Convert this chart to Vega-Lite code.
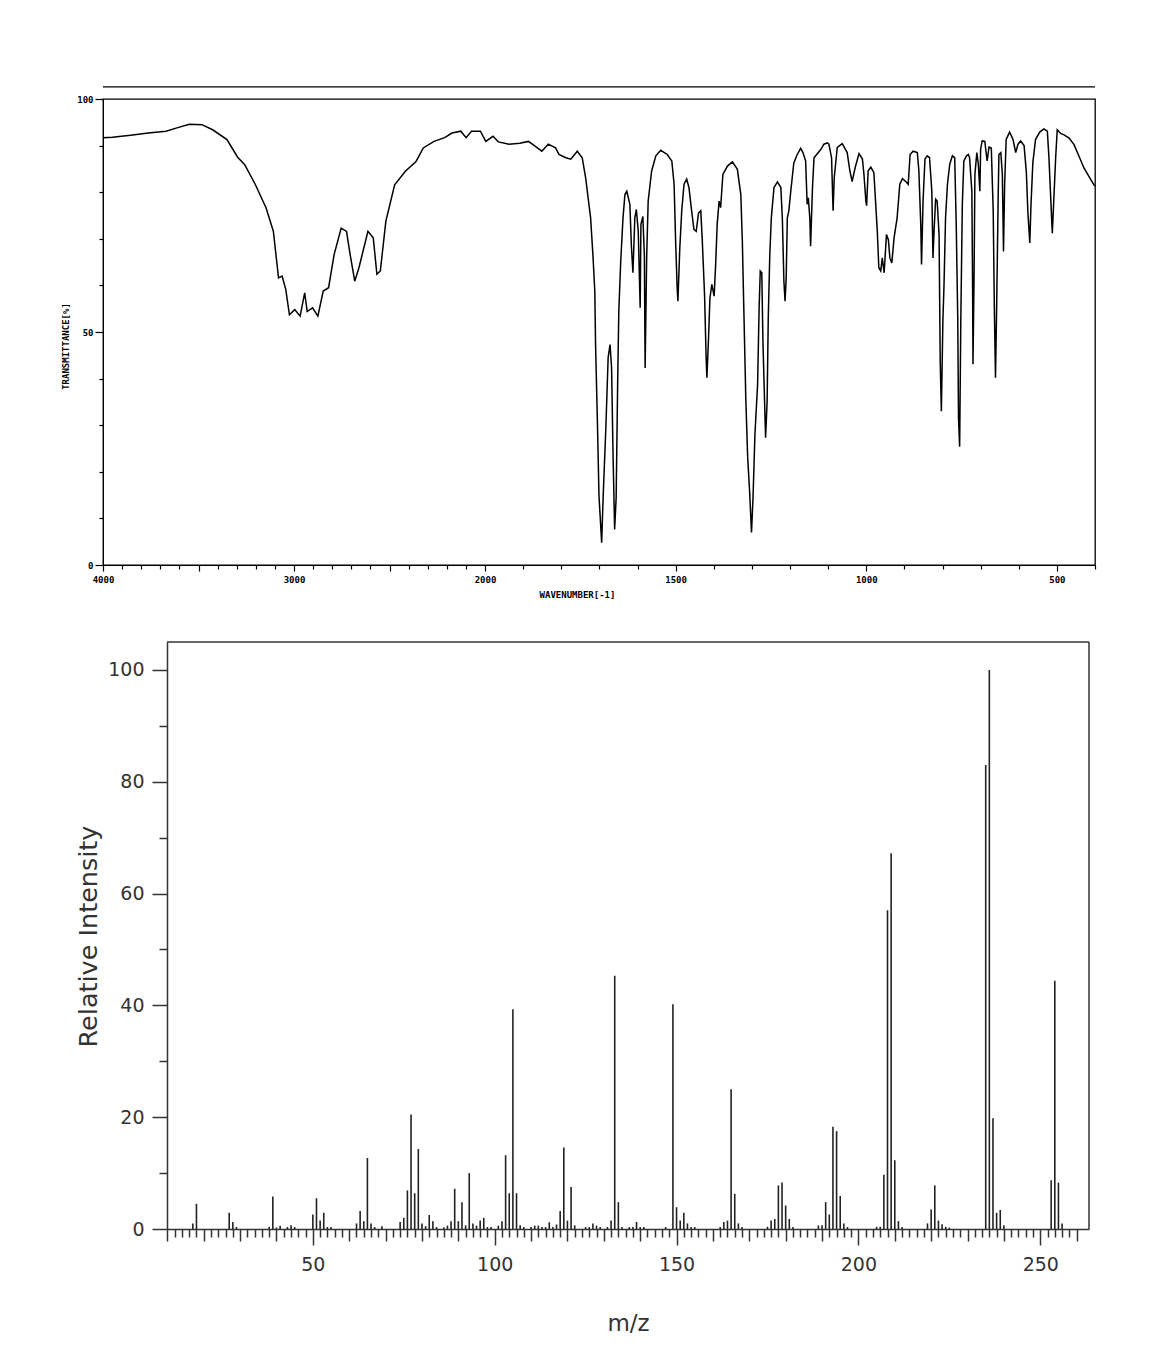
{
  "$schema": "https://vega.github.io/schema/vega-lite/v6.json",
  "padding": {"left": 60, "top": 85, "right": 0, "bottom": 0},
  "autosize": {"type": "pad"},
  "spacing": 41,
  "background": "white",
  "config": {
    "view": {"stroke": "#000", "strokeWidth": 1.3},
    "axis": {"grid": false, "labelOverlap": false, "labelFlush": false, "tickCount": 1000, "format": "d"}
  },
  "datasets": {
    "ir": [
      {"wn":4000,"t":91.7},{"wn":3950,"t":91.8},{"wn":3856,"t":92.2},{"wn":3763,"t":92.7},{"wn":3670,"t":93.1},{"wn":3613,"t":93.8},{"wn":3548,"t":94.6},{"wn":3482,"t":94.5},{"wn":3426,"t":93.4},{"wn":3351,"t":91.3},{"wn":3295,"t":87.5},{"wn":3258,"t":85.9},{"wn":3202,"t":81.6},{"wn":3146,"t":76.6},{"wn":3108,"t":71.6},{"wn":3081,"t":61.6},{"wn":3062,"t":62.0},{"wn":3043,"t":59.1},{"wn":3024,"t":53.7},{"wn":2996,"t":54.8},{"wn":2968,"t":53.4},{"wn":2944,"t":58.4},{"wn":2931,"t":54.4},{"wn":2903,"t":55.2},{"wn":2875,"t":53.4},{"wn":2847,"t":58.8},{"wn":2819,"t":59.5},{"wn":2790,"t":66.6},{"wn":2753,"t":72.3},{"wn":2725,"t":71.6},{"wn":2706,"t":66.6},{"wn":2682,"t":60.9},{"wn":2660,"t":63.8},{"wn":2613,"t":71.6},{"wn":2585,"t":70.2},{"wn":2566,"t":62.4},{"wn":2548,"t":63.1},{"wn":2519,"t":73.8},{"wn":2473,"t":81.6},{"wn":2417,"t":84.5},{"wn":2361,"t":86.6},{"wn":2323,"t":89.5},{"wn":2267,"t":90.9},{"wn":2211,"t":91.7},{"wn":2173,"t":92.7},{"wn":2127,"t":93.1},{"wn":2099,"t":91.7},{"wn":2071,"t":93.1},{"wn":2024,"t":93.1},{"wn":1998,"t":90.9},{"wn":1979,"t":92.0},{"wn":1965,"t":90.8},{"wn":1937,"t":90.3},{"wn":1909,"t":90.5},{"wn":1886,"t":90.9},{"wn":1867,"t":89.8},{"wn":1851,"t":88.8},{"wn":1834,"t":90.3},{"wn":1815,"t":89.5},
      {"wn":1806,"t":88.1},{"wn":1788,"t":87.4},{"wn":1775,"t":87.1},{"wn":1758,"t":88.8},{"wn":1745,"t":87.4},{"wn":1736,"t":83.1},{"wn":1723,"t":74.5},{"wn":1717,"t":66.6},{"wn":1712,"t":58.8},{"wn":1710,"t":47.3},{"wn":1705,"t":30.1},{"wn":1701,"t":14.8},{"wn":1694,"t":4.8},{"wn":1690,"t":14.8},{"wn":1683,"t":29.5},{"wn":1677,"t":44.5},{"wn":1672,"t":47.3},{"wn":1668,"t":42.3},{"wn":1664,"t":23},{"wn":1660,"t":7.6},{"wn":1656,"t":14.4},{"wn":1652,"t":39.3},{"wn":1649,"t":54.5},{"wn":1644,"t":65.2},{"wn":1638,"t":74.5},{"wn":1633,"t":79.5},{"wn":1628,"t":80.2},{"wn":1620,"t":77.4},{"wn":1616,"t":68.4},{"wn":1612,"t":62.7},{"wn":1607,"t":74.5},{"wn":1603,"t":76.3},{"wn":1598,"t":71.6},{"wn":1593,"t":55.2},{"wn":1591,"t":73.1},{"wn":1586,"t":74.8},{"wn":1582,"t":66.6},{"wn":1580,"t":42.3},{"wn":1576,"t":65.9},{"wn":1572,"t":78.1},{"wn":1563,"t":84.5},{"wn":1552,"t":87.8},{"wn":1539,"t":89},{"wn":1522,"t":88.1},{"wn":1510,"t":86.7},{"wn":1504,"t":81.7},{"wn":1500,"t":69.5},{"wn":1496,"t":59.5},{"wn":1494,"t":56.6},{"wn":1489,"t":68.1},{"wn":1484,"t":76},{"wn":1478,"t":81.7},{"wn":1471,"t":82.8},{"wn":1465,"t":81},{"wn":1458,"t":76},{"wn":1452,"t":72},{"wn":1446,"t":71.6},{"wn":1440,"t":75.5},{"wn":1434,"t":76},{"wn":1430,"t":69.5},{"wn":1424,"t":57.7},{"wn":1420,"t":44.5},{"wn":1418,"t":40.2},{"wn":1414,"t":48},{"wn":1410,"t":57.3},{"wn":1405,"t":60.2},{"wn":1399,"t":57.7},{"wn":1395,"t":64.5},{"wn":1391,"t":73.1},{"wn":1386,"t":78.1},{"wn":1382,"t":76.7},{"wn":1376,"t":83.8},{"wn":1364,"t":85.6},{"wn":1351,"t":86.5},{"wn":1338,"t":84.9},{"wn":1329,"t":79.5},{"wn":1325,"t":69.5},{"wn":1321,"t":54.5},{"wn":1316,"t":35.9},{"wn":1311,"t":23},{"wn":1306,"t":15.9},{"wn":1301,"t":7},{"wn":1297,"t":14.4},{"wn":1292,"t":28},{"wn":1285,"t":38.7},{"wn":1281,"t":55.2},{"wn":1278,"t":63.1},{"wn":1274,"t":62.7},{"wn":1271,"t":48},{"wn":1266,"t":33},{"wn":1264,"t":27.3},{"wn":1260,"t":35.2},{"wn":1257,"t":53},{"wn":1253,"t":66.6},{"wn":1249,"t":74.5},{"wn":1242,"t":81},{"wn":1233,"t":82.2},{"wn":1224,"t":81},{"wn":1220,"t":74.2},{"wn":1216,"t":60.9},{"wn":1213,"t":56.6},{"wn":1210,"t":61.6},{"wn":1207,"t":74.5},{"wn":1203,"t":76},{"wn":1198,"t":80.2},{"wn":1190,"t":86.3},{"wn":1181,"t":88.1},{"wn":1172,"t":89.4},{"wn":1166,"t":88.5},{"wn":1159,"t":86.7},{"wn":1155,"t":77.4},{"wn":1152,"t":78.8},{"wn":1148,"t":74.5},{"wn":1146,"t":68.4},{"wn":1141,"t":81},{"wn":1137,"t":87.4},{"wn":1128,"t":88.3},{"wn":1119,"t":89.2},{"wn":1111,"t":90.3},{"wn":1102,"t":90.6},
      {"wn":1098,"t":90.3},{"wn":1091,"t":87.4},{"wn":1087,"t":76},{"wn":1084,"t":83.1},{"wn":1076,"t":89.6},{"wn":1063,"t":90.4},{"wn":1050,"t":88.5},{"wn":1043,"t":84.6},{"wn":1037,"t":82.3},{"wn":1029,"t":85.3},{"wn":1019,"t":88.3},{"wn":1010,"t":87.1},{"wn":1006,"t":83.8},{"wn":1001,"t":78.1},{"wn":999,"t":77.1},{"wn":995,"t":84.6},{"wn":988,"t":85.4},{"wn":980,"t":84.2},{"wn":971,"t":71.6},{"wn":967,"t":63.8},{"wn":962,"t":63.1},{"wn":958,"t":65.9},{"wn":953,"t":62.7},{"wn":947,"t":70.9},{"wn":942,"t":69.8},{"wn":938,"t":65.9},{"wn":933,"t":64.8},{"wn":927,"t":70.2},{"wn":919,"t":74.5},{"wn":912,"t":81.7},{"wn":905,"t":82.9},{"wn":895,"t":82.2},{"wn":890,"t":81.7},{"wn":885,"t":88.1},{"wn":877,"t":88.8},{"wn":866,"t":88.5},{"wn":862,"t":84.6},{"wn":857,"t":73.1},{"wn":855,"t":64.5},{"wn":851,"t":78.1},{"wn":846,"t":87.1},{"wn":840,"t":87.8},{"wn":834,"t":87.4},{"wn":828,"t":80.2},{"wn":825,"t":65.9},{"wn":822,"t":72},{"wn":818,"t":78.5},{"wn":814,"t":78.1},{"wn":809,"t":70.9},{"wn":806,"t":43.7},{"wn":803,"t":33},{"wn":799,"t":52.3},{"wn":796,"t":60.2},{"wn":792,"t":74.5},{"wn":787,"t":81.7},{"wn":781,"t":86},{"wn":774,"t":87.8},{"wn":768,"t":87.4},{"wn":764,"t":73.1},{"wn":760,"t":53},{"wn":758,"t":31.5},{"wn":755,"t":25.4},{"wn":752,"t":52.3},{"wn":748,"t":77.4},{"wn":744,"t":86.7},{"wn":737,"t":87.8},{"wn":732,"t":88.1},{"wn":729,"t":87.4},{"wn":723,"t":80.2},{"wn":721,"t":58.8},{"wn":720,"t":43.1},{"wn":717,"t":63.8},{"wn":715,"t":83.8},{"wn":710,"t":88.5},{"wn":706,"t":86},{"wn":702,"t":80.2},{"wn":700,"t":89.2},{"wn":696,"t":91},{"wn":689,"t":90.9},{"wn":683,"t":86.7},{"wn":678,"t":89.7},{"wn":672,"t":89.5},{"wn":667,"t":76},{"wn":664,"t":55.2},{"wn":661,"t":40.2},{"wn":658,"t":55.2},{"wn":654,"t":78.8},{"wn":652,"t":88.1},{"wn":647,"t":88.5},{"wn":643,"t":83.8},{"wn":640,"t":67.3},{"wn":637,"t":81.7},{"wn":633,"t":91.3},{"wn":624,"t":92.9},{"wn":615,"t":91.3},{"wn":608,"t":88.5},{"wn":602,"t":90.3},{"wn":595,"t":91},{"wn":586,"t":90},{"wn":580,"t":84.2},{"wn":576,"t":75.6},{"wn":571,"t":69.1},{"wn":568,"t":77.1},{"wn":563,"t":86.4},{"wn":556,"t":91.3},{"wn":545,"t":92.9},{"wn":534,"t":93.6},{"wn":525,"t":93.1},{"wn":521,"t":87.7},{"wn":516,"t":78.5},{"wn":512,"t":71.2},{"wn":508,"t":78.5},{"wn":503,"t":87.7},{"wn":499,"t":93.4},{"wn":490,"t":92.6},{"wn":481,"t":92.3},{"wn":468,"t":91.6},{"wn":455,"t":90.2},{"wn":442,"t":87.7},{"wn":429,"t":85.2},{"wn":416,"t":83.4},{"wn":403,"t":81.6},{"wn":400,"t":81.3}
    ],
    "ms": [
      {"mz":17,"i":1.0},{"mz":18,"i":4.5},{"mz":27,"i":2.9},{"mz":28,"i":1.25},{"mz":29,"i":0.35},{"mz":38,"i":0.4},{"mz":39,"i":5.8},{"mz":40,"i":0.25},{"mz":41,"i":0.6},{"mz":43,"i":0.35},{"mz":44,"i":0.65},{"mz":45,"i":0.35},{"mz":50,"i":2.6},{"mz":51,"i":5.5},{"mz":52,"i":1.5},{"mz":53,"i":2.9},{"mz":54,"i":0.35},{"mz":55,"i":0.35},{"mz":62,"i":1.0},{"mz":63,"i":3.2},{"mz":64,"i":1.4},{"mz":65,"i":12.7},{"mz":66,"i":1.0},{"mz":67,"i":0.35},{"mz":69,"i":0.5},{"mz":74,"i":1.25},{"mz":75,"i":2.0},{"mz":76,"i":6.9},{"mz":77,"i":20.5},{"mz":78,"i":6.4},{"mz":79,"i":14.3},{"mz":80,"i":1.0},{"mz":81,"i":0.5},{"mz":82,"i":2.5},{"mz":83,"i":1.4},{"mz":84,"i":0.35},{"mz":86,"i":0.3},{"mz":87,"i":0.6},{"mz":88,"i":1.4},{"mz":89,"i":7.2},{"mz":90,"i":1.4},{"mz":91,"i":4.8},{"mz":92,"i":0.65},{"mz":93,"i":10.0},{"mz":94,"i":1.0},{"mz":95,"i":0.6},{"mz":96,"i":1.5},{"mz":97,"i":2.0},{"mz":98,"i":0.35},{"mz":99,"i":0.35},{"mz":101,"i":0.6},{"mz":102,"i":1.4},{"mz":103,"i":13.2},{"mz":104,"i":6.4},{"mz":105,"i":39.3},{"mz":106,"i":6.4},{"mz":107,"i":0.65},{"mz":108,"i":0.35},{"mz":110,"i":0.35},{"mz":111,"i":0.6},{"mz":112,"i":0.6},{"mz":113,"i":0.35},{"mz":114,"i":0.35},{"mz":115,"i":1.2},{"mz":116,"i":0.35},{"mz":117,"i":0.8},{"mz":118,"i":3.2},{"mz":119,"i":14.6},{"mz":120,"i":1.5},{"mz":121,"i":7.5},{"mz":122,"i":0.65},{"mz":125,"i":0.35},{"mz":126,"i":0.35},{"mz":127,"i":1.0},{"mz":128,"i":0.6},{"mz":129,"i":0.35},{"mz":131,"i":0.35},{"mz":132,"i":1.5},{"mz":133,"i":45.3},{"mz":134,"i":4.8},{"mz":135,"i":0.35},{"mz":137,"i":0.35},{"mz":138,"i":0.35},{"mz":139,"i":1.25},{"mz":140,"i":0.35},{"mz":141,"i":0.35},{"mz":147,"i":0.35},{"mz":149,"i":40.2},{"mz":150,"i":3.9},{"mz":151,"i":1.5},{"mz":152,"i":2.9},{"mz":153,"i":1.0},{"mz":154,"i":0.35},{"mz":155,"i":0.35},{"mz":162,"i":0.35},{"mz":163,"i":1.25},{"mz":164,"i":1.5},{"mz":165,"i":25},{"mz":166,"i":6.3},{"mz":167,"i":1.0},{"mz":168,"i":0.35},{"mz":175,"i":0.4},{"mz":176,"i":1.5},{"mz":177,"i":1.8},{"mz":178,"i":7.8},{"mz":179,"i":8.3},{"mz":180,"i":4.2},{"mz":181,"i":1.8},{"mz":182,"i":0.35},{"mz":189,"i":0.65},{"mz":190,"i":0.65},{"mz":191,"i":4.8},{"mz":192,"i":2.6},{"mz":193,"i":18.3},{"mz":194,"i":17.5},{"mz":195,"i":5.9},{"mz":196,"i":1.0},{"mz":197,"i":0.35},{"mz":205,"i":0.4},{"mz":206,"i":0.4},{"mz":207,"i":9.7},{"mz":208,"i":57},{"mz":209,"i":67.2},{"mz":210,"i":12.3},{"mz":211,"i":1.4},{"mz":212,"i":0.35},{"mz":219,"i":1.0},{"mz":220,"i":3.5},{"mz":221,"i":7.8},{"mz":222,"i":1.5},{"mz":223,"i":0.85},{"mz":224,"i":0.4},{"mz":225,"i":0.25},{"mz":235,"i":83},{"mz":236,"i":100},{"mz":237,"i":19.8},{"mz":238,"i":2.9},{"mz":239,"i":3.4},{"mz":240,"i":0.65},{"mz":253,"i":8.7},{"mz":254,"i":44.4},{"mz":255,"i":8.3},{"mz":256,"i":1.0}
    ]
  },
  "vconcat": [
    {
      "width": 992,
      "height": 466,
      "layer": [
        {
          "data": {"name": "ir"},
          "mark": {"type": "line", "color": "#000", "strokeWidth": 1.5},
          "encoding": {
            "x": {
              "field": "wn", "type": "quantitative",
              "scale": {"domain": [4000, 2000, 400], "range": [0, 382, 992], "nice": false, "zero": false},
              "axis": {
                "values": [4000,3900,3800,3700,3600,3500,3400,3300,3200,3100,3000,2900,2800,2700,2600,2500,2400,2300,2200,2100,2000,1900,1800,1700,1600,1500,1400,1300,1200,1100,1000,900,800,700,600,500,400],
                "format": "d",
                "labelExpr": "indexof([4000,3000,2000,1500,1000,500], datum.value) >= 0 ? format(datum.value, 'd') : ''",
                "tickSize": {"condition": {"test": "indexof([4000,3500,3000,2500,2000,1500,1000,500], datum.value) >= 0", "value": 6}, "value": 4},
                "tickColor": "#000", "domainColor": "#000", "tickWidth": 1.2,
                "labelFont": "DejaVu Sans Mono", "labelFontSize": 9, "labelFontWeight": "bold", "labelColor": "#000", "labelPadding": 4,
                "title": "WAVENUMBER[-1]", "titleFont": "DejaVu Sans Mono", "titleFontSize": 9, "titleFontWeight": "bold", "titleColor": "#000",
                "titleX": 474, "titleY": 29, "titleBaseline": "middle"
              }
            },
            "y": {
              "field": "t", "type": "quantitative",
              "scale": {"domain": [0, 100], "nice": false},
              "axis": {
                "values": [0,10,20,30,40,50,60,70,80,90,100],
                "format": "d",
                "labelExpr": "datum.value % 50 === 0 ? format(datum.value, 'd') : ''",
                "tickSize": {"condition": {"test": "datum.value % 50 === 0", "value": 8}, "value": 4},
                "tickColor": "#000", "domainColor": "#000", "tickWidth": 1.2,
                "labelFont": "DejaVu Sans Mono", "labelFontSize": 9, "labelFontWeight": "bold", "labelColor": "#000", "labelPadding": 2,
                "title": "TRANSMITTANCE[%]", "titleFont": "DejaVu Sans Mono", "titleFontSize": 9, "titleFontWeight": "bold", "titleColor": "#000",
                "titleX": -38, "titleY": 247, "titleBaseline": "middle"
              }
            }
          }
        },
        {
          "data": {"values": [{}]},
          "mark": {"type": "rule", "color": "#000", "strokeWidth": 1.3},
          "encoding": {"y": {"datum": 102.6, "type": "quantitative"}}
        }
      ]
    },
    {
      "width": 986,
      "height": 587,
      "view": {"stroke": null},
      "layer": [
        {
          "data": {"name": "ms"},
          "mark": {"type": "rule", "color": "#222", "strokeWidth": 1.6},
          "encoding": {
            "x": {
              "field": "mz", "type": "quantitative",
              "scale": {"domain": [9.9, 263.4], "range": [64, 986], "nice": false, "zero": false},
              "axis": {
                "values": [10,12,14,16,18,20,22,24,26,28,30,32,34,36,38,40,42,44,46,48,50,52,54,56,58,60,62,64,66,68,70,72,74,76,78,80,82,84,86,88,90,92,94,96,98,100,102,104,106,108,110,112,114,116,118,120,122,124,126,128,130,132,134,136,138,140,142,144,146,148,150,152,154,156,158,160,162,164,166,168,170,172,174,176,178,180,182,184,186,188,190,192,194,196,198,200,202,204,206,208,210,212,214,216,218,220,222,224,226,228,230,232,234,236,238,240,242,244,246,248,250,252,254,256,258,260],
                "format": "d",
                "labelExpr": "datum.value % 50 === 0 ? format(datum.value, 'd') : ''",
                "tickSize": {"condition": [{"test": "datum.value % 50 === 0", "value": 16}, {"test": "datum.value % 10 === 0", "value": 12}], "value": 8},
                "tickColor": "#333", "domainColor": "#333", "tickWidth": 1.5, "domainWidth": 1.5,
                "labelFont": "DejaVu Sans", "labelFontSize": 19, "labelColor": "#333", "labelPadding": 10,
                "title": "m/z", "titleFont": "DejaVu Sans", "titleFontSize": 23, "titleFontWeight": "normal", "titleColor": "#333",
                "titleY": 94, "titleBaseline": "middle"
              }
            },
            "y": {
              "field": "i", "type": "quantitative",
              "scale": {"domain": [0, 105], "nice": false},
              "axis": {
                "offset": -64,
                "values": [0,10,20,30,40,50,60,70,80,90,100],
                "format": "d",
                "labelExpr": "datum.value % 20 === 0 ? format(datum.value, 'd') : ''",
                "tickSize": {"condition": {"test": "datum.value % 20 === 0", "value": 15}, "value": 8},
                "tickColor": "#333", "domainColor": "#333", "tickWidth": 1.5, "domainWidth": 1.5,
                "labelFont": "DejaVu Sans", "labelFontSize": 19, "labelColor": "#333", "labelPadding": 8,
                "title": "Relative Intensity", "titleFont": "DejaVu Sans", "titleFontSize": 25.5, "titleFontWeight": "normal", "titleColor": "#333",
                "titleX": -79, "titleY": 294, "titleBaseline": "middle"
              }
            },
            "y2": {"datum": 0}
          }
        },
        {
          "data": {"values": [{}]},
          "mark": {"type": "rule", "color": "#333", "strokeWidth": 1.5},
          "encoding": {
            "x": {"datum": 9.9, "type": "quantitative"},
            "x2": {"datum": 263.4},
            "y": {"datum": 105, "type": "quantitative"}
          }
        },
        {
          "data": {"values": [{}]},
          "mark": {"type": "rule", "color": "#333", "strokeWidth": 1.5},
          "encoding": {
            "x": {"datum": 263.4, "type": "quantitative"},
            "y": {"datum": 0, "type": "quantitative"},
            "y2": {"datum": 105}
          }
        }
      ]
    }
  ]
}
